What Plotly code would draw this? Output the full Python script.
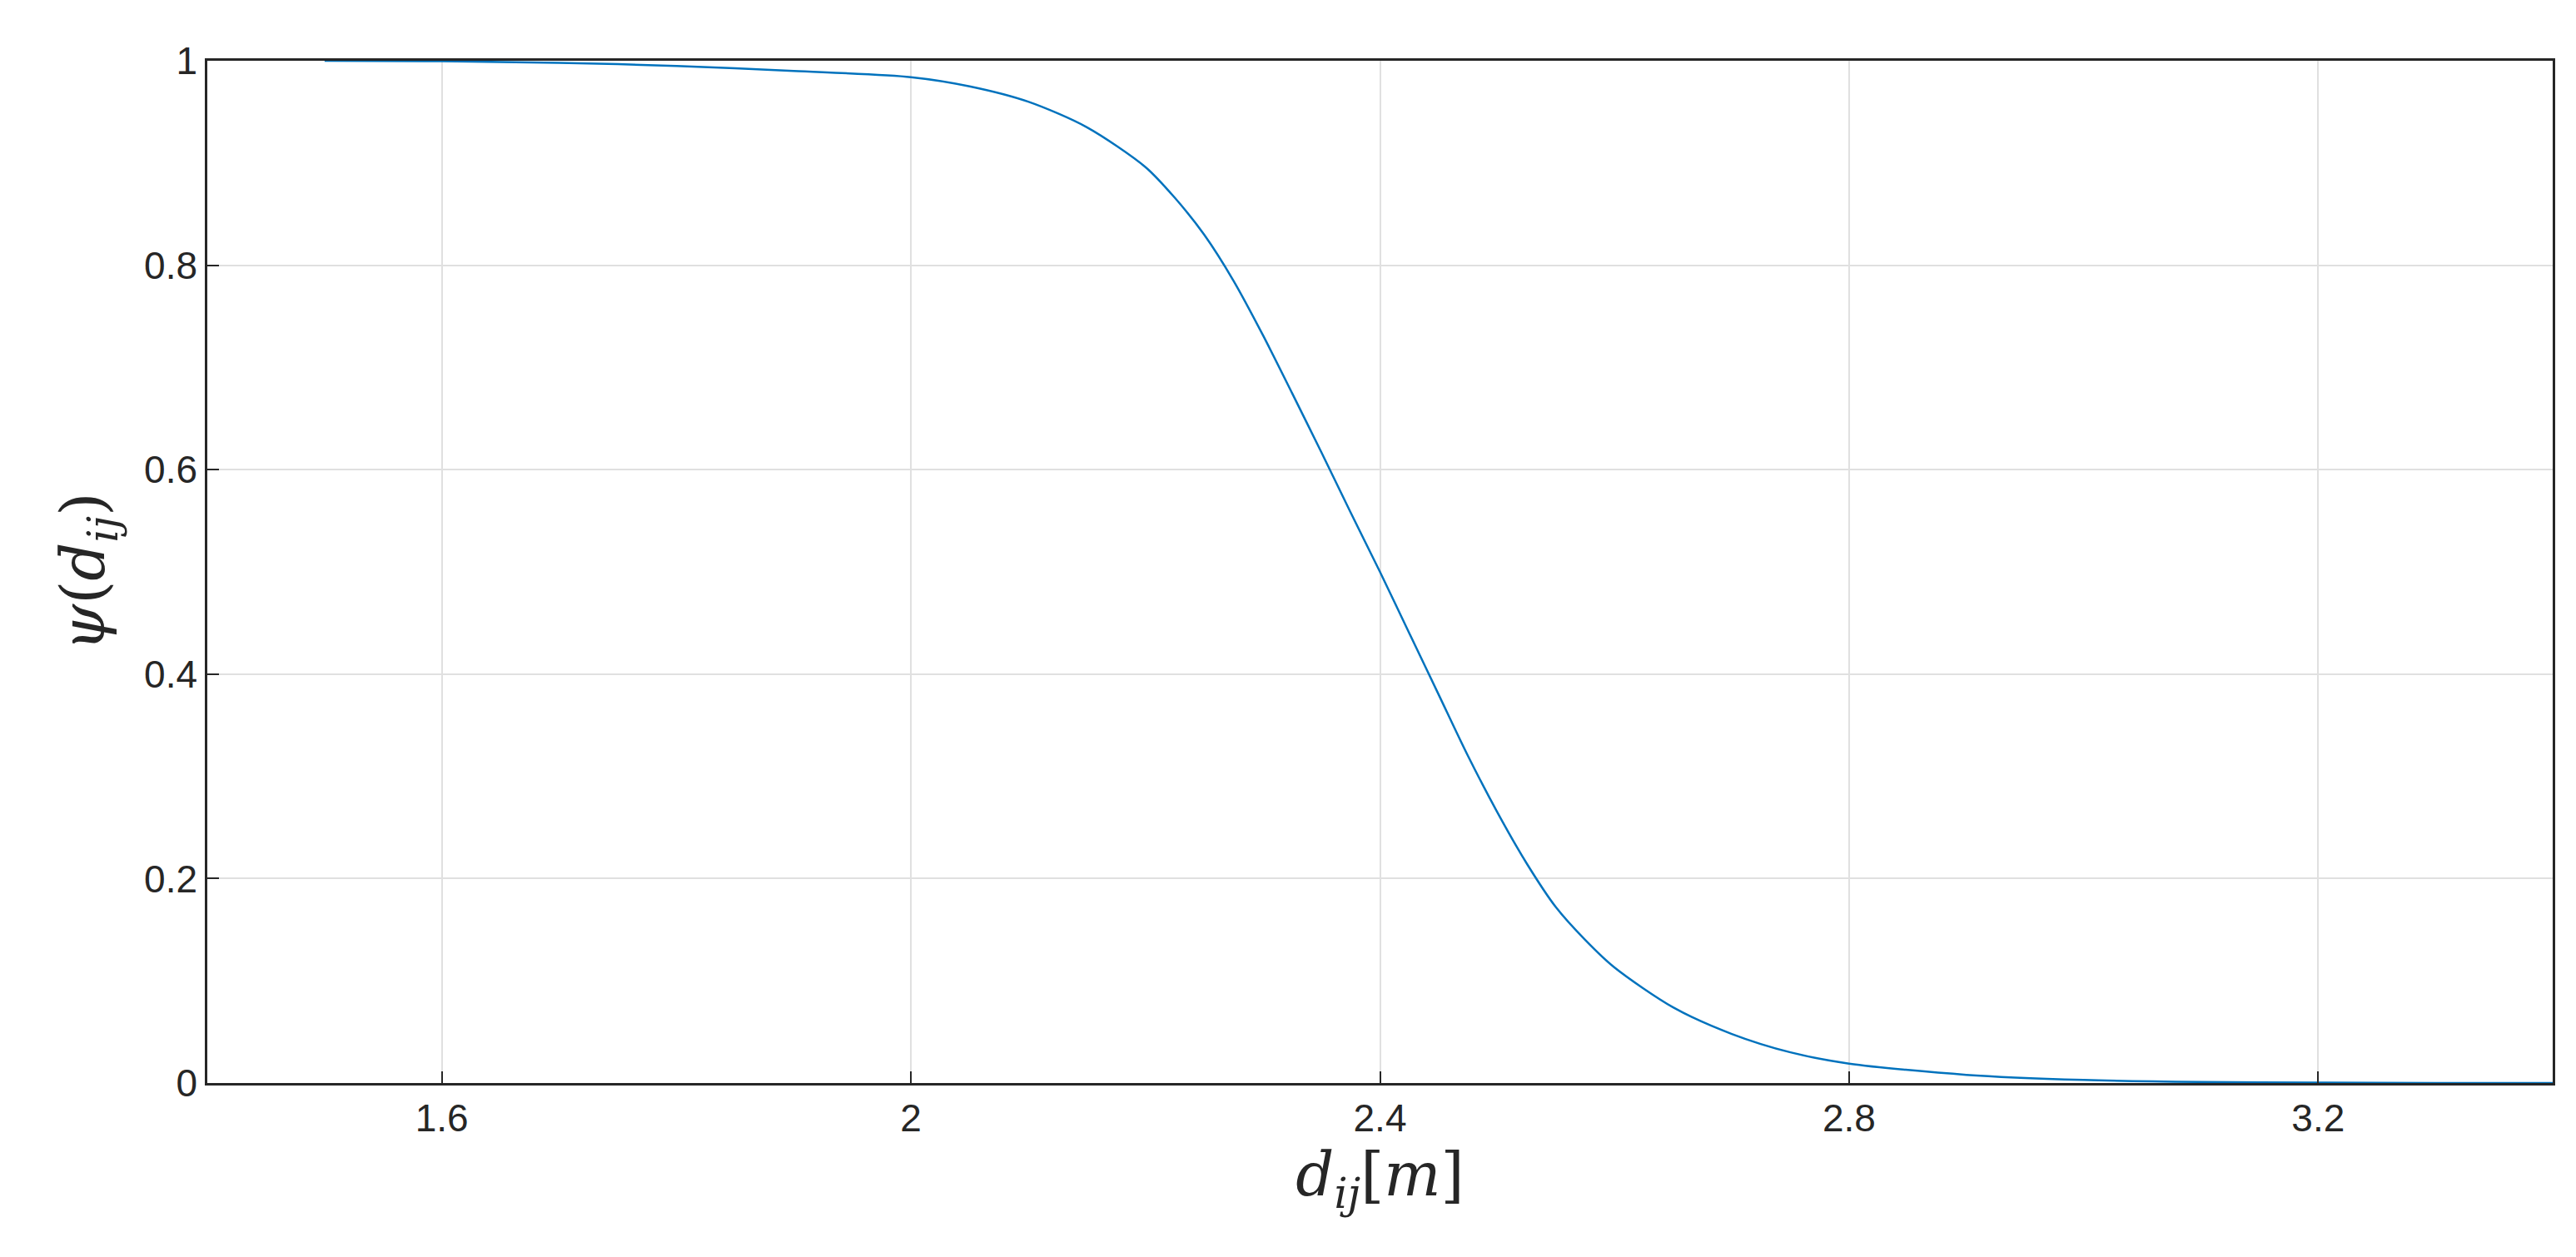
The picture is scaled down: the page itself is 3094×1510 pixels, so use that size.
import plotly.graph_objects as go

d_ij = [1.5, 1.6, 1.7, 1.8, 1.9, 2.0, 2.05, 2.1, 2.15, 2.2, 2.225, 2.25, 2.275, 2.3, 2.325, 2.35,
        2.375, 2.4, 2.425, 2.45, 2.475, 2.5, 2.525, 2.55, 2.575, 2.6, 2.65, 2.7, 2.75, 2.8,
        2.9, 3.0, 3.1, 3.2, 3.3, 3.4]
psi = [1.0, 0.9995, 0.998, 0.995, 0.99, 0.984, 0.975, 0.96, 0.935, 0.896, 0.866, 0.83, 0.785,
       0.732, 0.675, 0.617, 0.558, 0.5, 0.44, 0.38, 0.32, 0.265, 0.215, 0.172, 0.14, 0.113,
       0.074, 0.048, 0.03, 0.019, 0.008, 0.003, 0.001, 0.0004, 0.0001, 0.0]
x_ticks = [1.6, 2.0, 2.4, 2.8, 3.2]
x_labels = ["1.6", "2", "2.4", "2.8", "3.2"]
y_ticks = [0, 0.2, 0.4, 0.6, 0.8, 1]
y_labels = ["0", "0.2", "0.4", "0.6", "0.8", "1"]

fig = go.Figure(go.Scatter(x=d_ij, y=psi, mode="lines",
                           line=dict(color="#0072BD", width=2.5, shape="spline", smoothing=0.8)))
axis_common = dict(showline=True, linecolor="#262626", linewidth=2.5, mirror=True, showgrid=True,
                   gridcolor="#E0E0E0", gridwidth=2, ticks="inside", ticklen=14, tickcolor="#262626",
                   tickwidth=2, zeroline=False,
                   tickfont=dict(family="Liberation Sans, Arial", size=46, color="#262626"))
fig.update_xaxes(range=[1.4, 3.4], tickvals=x_ticks, ticktext=x_labels,
                 title=dict(text="<i>d<sub>ij</sub></i>[<i>m</i>]",
                            font=dict(family="DejaVu Serif, serif", size=72, color="#262626"), standoff=18),
                 **axis_common)
fig.update_yaxes(range=[0, 1], tickvals=y_ticks, ticktext=y_labels,
                 title=dict(text="<i>ψ</i>(<i>d<sub>ij</sub></i>)",
                            font=dict(family="DejaVu Serif, serif", size=72, color="#262626"), standoff=24),
                 **axis_common)
fig.update_layout(width=3094, height=1510, margin=dict(l=241, r=36, t=65, b=217),
                  plot_bgcolor="white", paper_bgcolor="white", showlegend=False)
fig.write_html("out.html")
